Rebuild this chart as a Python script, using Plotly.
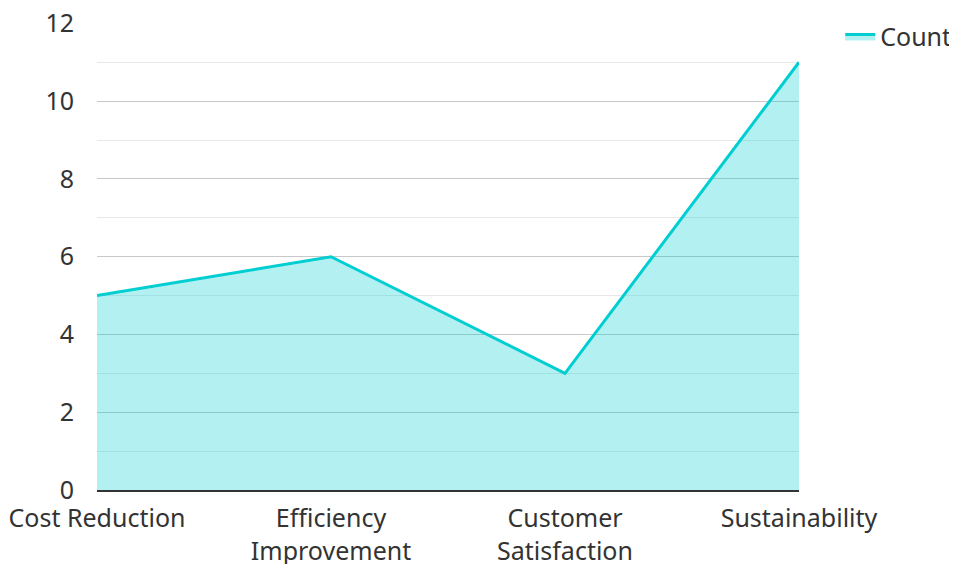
import plotly.graph_objects as go

categories = ["Cost Reduction", "Efficiency<br>Improvement", "Customer<br>Satisfaction", "Sustainability"]
counts = [5, 6, 3, 11]
series_name = "Count"

fig = go.Figure()
fig.add_trace(go.Scatter(
    x=categories, y=counts, name=series_name, mode="lines",
    line=dict(color="rgb(0,206,209)", width=3),
    fill="tozeroy", fillcolor="rgba(0,206,209,0.3)",
))

# page body has an 8px margin; compensate so plot area sits at x 97-799, y 23-490
fig.update_layout(
    width=949, height=556,
    margin=dict(l=89, r=158, t=15, b=74, autoexpand=False),
    plot_bgcolor="white", paper_bgcolor="white",
    font=dict(family="Noto Sans", size=25, color="#333333"),
    showlegend=True,
    legend=dict(x=1.224, y=1.02, xanchor="right", yanchor="top", borderwidth=0,
                font=dict(size=25, color="#333333")),
    xaxis=dict(range=[0, 3], showgrid=False, showline=True, linecolor="#333333", linewidth=2,
               ticks="", automargin=False, ticklabelstandoff=5, ticklabeloverflow="allow",
               tickfont=dict(size=25, color="#333333")),
    yaxis=dict(range=[0, 12.01], tickvals=[0, 2, 4, 6, 8, 10, 12], showgrid=True,
               gridcolor="#c8c8c8", gridwidth=1,
               zeroline=False, showline=False, ticks="", ticklen=0, automargin=False,
               ticklabelstandoff=22, ticklabeloverflow="allow",
               tickfont=dict(size=25, color="#333333"),
               minor=dict(tickvals=[1, 3, 5, 7, 9, 11], showgrid=True, gridcolor="#e8e8e8", gridwidth=1)),
)
fig.update_xaxes(layer="above traces")
fig.update_yaxes(layer="above traces")
fig.write_html("out.html")
